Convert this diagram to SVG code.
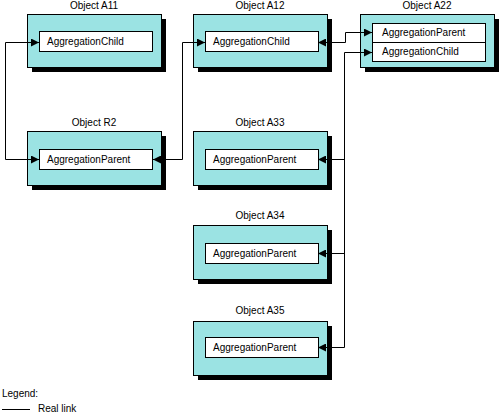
<svg xmlns="http://www.w3.org/2000/svg" width="499" height="415" viewBox="0 0 499 415">
<defs>
<marker id="ah" viewBox="0 0 8 8" refX="8" refY="4" markerWidth="8" markerHeight="8" markerUnits="userSpaceOnUse" orient="auto-start-reverse">
<path d="M0,0 L8,4 L0,8 z" fill="#000"/>
</marker>
</defs>
<style>
text{font-family:"Liberation Sans",Arial,sans-serif;font-size:10px;fill:#000}
.title{text-anchor:middle}
.shadow{fill:#000}
.box{fill:#9be3e3;stroke:#000;stroke-width:1}
.inner{fill:#fff;stroke:#000;stroke-width:1}
.link{fill:none;stroke:#000;stroke-width:1}
</style>
<rect width="499" height="415" fill="#fff"/>

<g id="A11">
<text class="title" x="94" y="9">Object A11</text>
<rect class="shadow" x="32" y="19" width="134" height="53"/>
<rect class="box" x="27.5" y="14.5" width="134" height="53"/>
<rect class="inner" x="39.5" y="31.5" width="113" height="20"/>
<text x="47" y="45">AggregationChild</text>
</g>

<g id="R2">
<text class="title" x="94" y="126">Object R2</text>
<rect class="shadow" x="32" y="136" width="134" height="54"/>
<rect class="box" x="27.5" y="131.5" width="134" height="54"/>
<rect class="inner" x="39.5" y="149.5" width="113" height="20"/>
<text x="47" y="163">AggregationParent</text>
</g>

<g id="A12">
<text class="title" x="260" y="9">Object A12</text>
<rect class="shadow" x="198" y="19" width="134" height="53"/>
<rect class="box" x="193.5" y="14.5" width="134" height="53"/>
<rect class="inner" x="205.5" y="31.5" width="113" height="20"/>
<text x="213" y="45">AggregationChild</text>
</g>

<g id="A22">
<text class="title" x="427" y="9">Object A22</text>
<rect class="shadow" x="365" y="19" width="134" height="53"/>
<rect class="box" x="360.5" y="14.5" width="134" height="53"/>
<rect class="inner" x="372.5" y="23.5" width="113" height="38"/>
<line x1="372.5" y1="42.5" x2="485.5" y2="42.5" stroke="#000"/>
<text x="382" y="36">AggregationParent</text>
<text x="382" y="55">AggregationChild</text>
</g>

<g id="A33">
<text class="title" x="260" y="126">Object A33</text>
<rect class="shadow" x="198" y="136" width="134" height="54"/>
<rect class="box" x="193.5" y="131.5" width="134" height="54"/>
<rect class="inner" x="205.5" y="149.5" width="113" height="20"/>
<text x="213" y="163">AggregationParent</text>
</g>

<g id="A34">
<text class="title" x="260" y="219">Object A34</text>
<rect class="shadow" x="198" y="230" width="134" height="54"/>
<rect class="box" x="193.5" y="225.5" width="134" height="54"/>
<rect class="inner" x="205.5" y="243.5" width="113" height="20"/>
<text x="213" y="257">AggregationParent</text>
</g>

<g id="A35">
<text class="title" x="260" y="314">Object A35</text>
<rect class="shadow" x="198" y="326" width="134" height="54"/>
<rect class="box" x="193.5" y="321.5" width="134" height="54"/>
<rect class="inner" x="205.5" y="337.5" width="113" height="20"/>
<text x="213" y="351">AggregationParent</text>
</g>

<g id="connectors">
<path class="link" d="M39,42.5 H5.5 V159.5 H39" marker-start="url(#ah)" marker-end="url(#ah)"/>
<path class="link" d="M205,42.5 H182.5 V159.5 H153" marker-start="url(#ah)" marker-end="url(#ah)"/>
<path class="link" d="M318,42.5 H345.5 V32.5 H372" marker-start="url(#ah)" marker-end="url(#ah)"/>
<path class="link" d="M372,52.5 H344.5 V347.5 H318" marker-start="url(#ah)" marker-end="url(#ah)"/>
<path class="link" d="M344.5,159.5 H318" marker-end="url(#ah)"/>
<path class="link" d="M344.5,253.5 H318" marker-end="url(#ah)"/>
</g>

<g id="legend">
<text x="2" y="397">Legend:</text>
<line x1="2" y1="409.5" x2="30" y2="409.5" stroke="#000"/>
<text x="38" y="412">Real link</text>
</g>
</svg>
